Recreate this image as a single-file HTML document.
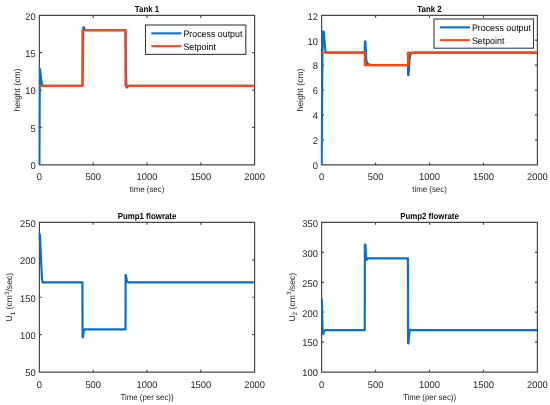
<!DOCTYPE html>
<html><head><meta charset="utf-8"><title>Tank and pump plots</title>
<style>
html,body{margin:0;padding:0;background:#fff}
svg{display:block}
text{font-family:"Liberation Sans",Arial,sans-serif;fill:#262626;text-rendering:geometricPrecision}
.tk{font-size:9.5px}
.lb{font-size:8.3px}
.tt{font-weight:bold;fill:#000}
.lg{font-size:8.8px;fill:#000}
</style></head><body>
<svg width="550" height="405" viewBox="0 0 550 405">
<rect width="550" height="405" fill="#fff"/>
<g>
<clipPath id="c39_15"><rect x="38.4" y="14.3" width="217.2" height="151.5"/></clipPath>
<path d="M39.4 15.3H254.6V164.8H39.4ZM39.4 164.8v-2.4M39.4 15.3v2.4M93.2 164.8v-2.4M93.2 15.3v2.4M147 164.8v-2.4M147 15.3v2.4M200.8 164.8v-2.4M200.8 15.3v2.4M254.6 164.8v-2.4M254.6 15.3v2.4M39.4 164.8h2.4M254.6 164.8h-2.4M39.4 127.43h2.4M254.6 127.43h-2.4M39.4 90.05h2.4M254.6 90.05h-2.4M39.4 52.68h2.4M254.6 52.68h-2.4M39.4 15.3h2.4M254.6 15.3h-2.4" fill="none" stroke="#484848" stroke-width="1.2"/>
<polyline clip-path="url(#c39_15)" points="39.4,164.8 39.62,112.48 39.83,68.75 40.15,70.62 41.01,78.09 41.98,84.44 42.84,85.79 82.44,85.79 82.87,60.15 83.3,27.26 83.95,27.26 84.7,29.5 86.21,30.25 125.48,30.25 126.02,75.1 126.45,87.43 126.99,87.43 128.06,86.31 129.57,85.79 254.6,85.79" fill="none" stroke="#0B70C4" stroke-width="2.2" stroke-linejoin="round"/>
<polyline clip-path="url(#c39_15)" points="39.4,85.79 82.44,85.79 82.44,30.25 125.48,30.25 125.48,85.79 254.6,85.79" fill="none" stroke="#FB4A0C" stroke-width="2.2" stroke-linejoin="round"/>
<text transform="translate(39.4 180.4) scale(1 1.037)" text-anchor="middle" class="tk" style="font-size:9.35px">0</text>
<text transform="translate(93.2 180.4) scale(1 1.037)" text-anchor="middle" class="tk" style="font-size:9.35px">500</text>
<text transform="translate(147 180.4) scale(1 1.037)" text-anchor="middle" class="tk" style="font-size:9.35px">1000</text>
<text transform="translate(200.8 180.4) scale(1 1.037)" text-anchor="middle" class="tk" style="font-size:9.35px">1500</text>
<text transform="translate(254.6 180.4) scale(1 1.037)" text-anchor="middle" class="tk" style="font-size:9.35px">2000</text>
<text transform="translate(35.7 169.1) scale(1 1.037)" text-anchor="end" class="tk" style="font-size:9.35px">0</text>
<text transform="translate(35.7 131.73) scale(1 1.037)" text-anchor="end" class="tk" style="font-size:9.35px">5</text>
<text transform="translate(35.7 94.35) scale(1 1.037)" text-anchor="end" class="tk" style="font-size:9.35px">10</text>
<text transform="translate(35.7 56.98) scale(1 1.037)" text-anchor="end" class="tk" style="font-size:9.35px">15</text>
<text transform="translate(35.7 19.6) scale(1 1.037)" text-anchor="end" class="tk" style="font-size:9.35px">20</text>
<text transform="translate(147 11.8) scale(1 1.114)" text-anchor="middle" class="tt" style="font-size:7.9px">Tank 1</text>
<text transform="translate(147 192.2) scale(1 1.051)" text-anchor="middle" class="lb" style="font-size:7.9px">time (sec)</text>
<text transform="translate(20.4 90.05) rotate(-90) scale(1.012 1)" text-anchor="middle" class="lb" style="font-size:8.5px">height (cm)</text>
</g>
<g>
<clipPath id="c321_15"><rect x="320.6" y="14.3" width="217.79999999999995" height="151.5"/></clipPath>
<path d="M321.6 15.3H537.4V164.8H321.6ZM321.6 164.8v-2.4M321.6 15.3v2.4M375.55 164.8v-2.4M375.55 15.3v2.4M429.5 164.8v-2.4M429.5 15.3v2.4M483.45 164.8v-2.4M483.45 15.3v2.4M537.4 164.8v-2.4M537.4 15.3v2.4M321.6 164.8h2.4M537.4 164.8h-2.4M321.6 139.88h2.4M537.4 139.88h-2.4M321.6 114.97h2.4M537.4 114.97h-2.4M321.6 90.05h2.4M537.4 90.05h-2.4M321.6 65.13h2.4M537.4 65.13h-2.4M321.6 40.22h2.4M537.4 40.22h-2.4M321.6 15.3h2.4M537.4 15.3h-2.4" fill="none" stroke="#484848" stroke-width="1.2"/>
<polyline clip-path="url(#c321_15)" points="321.6,164.8 322.03,102.51 322.46,45.2 322.79,31.5 323.76,31.5 324.41,40.22 325.05,48.94 325.92,52.05 327,52.68 364.76,52.68 364.98,41.46 365.41,41.46 366.27,60.15 367.13,63.26 369.08,64.51 372.31,65.13 407.92,65.13 408.14,75.1 408.57,75.1 409.43,58.9 410.29,54.54 412.24,53.05 414.39,52.68 537.4,52.68" fill="none" stroke="#0B70C4" stroke-width="2.2" stroke-linejoin="round"/>
<polyline clip-path="url(#c321_15)" points="321.6,52.68 364.76,52.68 364.76,65.13 407.92,65.13 407.92,52.68 537.4,52.68" fill="none" stroke="#FB4A0C" stroke-width="2.2" stroke-linejoin="round"/>
<text transform="translate(321.6 180.4) scale(1 1.037)" text-anchor="middle" class="tk" style="font-size:9.35px">0</text>
<text transform="translate(375.55 180.4) scale(1 1.037)" text-anchor="middle" class="tk" style="font-size:9.35px">500</text>
<text transform="translate(429.5 180.4) scale(1 1.037)" text-anchor="middle" class="tk" style="font-size:9.35px">1000</text>
<text transform="translate(483.45 180.4) scale(1 1.037)" text-anchor="middle" class="tk" style="font-size:9.35px">1500</text>
<text transform="translate(537.4 180.4) scale(1 1.037)" text-anchor="middle" class="tk" style="font-size:9.35px">2000</text>
<text transform="translate(317.9 169.1) scale(1 1.037)" text-anchor="end" class="tk" style="font-size:9.35px">0</text>
<text transform="translate(317.9 144.18) scale(1 1.037)" text-anchor="end" class="tk" style="font-size:9.35px">2</text>
<text transform="translate(317.9 119.27) scale(1 1.037)" text-anchor="end" class="tk" style="font-size:9.35px">4</text>
<text transform="translate(317.9 94.35) scale(1 1.037)" text-anchor="end" class="tk" style="font-size:9.35px">6</text>
<text transform="translate(317.9 69.43) scale(1 1.037)" text-anchor="end" class="tk" style="font-size:9.35px">8</text>
<text transform="translate(317.9 44.52) scale(1 1.037)" text-anchor="end" class="tk" style="font-size:9.35px">10</text>
<text transform="translate(317.9 19.6) scale(1 1.037)" text-anchor="end" class="tk" style="font-size:9.35px">12</text>
<text transform="translate(429.5 11.8) scale(1 1.114)" text-anchor="middle" class="tt" style="font-size:7.9px">Tank 2</text>
<text transform="translate(429.5 192.2) scale(1 1.051)" text-anchor="middle" class="lb" style="font-size:7.9px">time (sec)</text>
<text transform="translate(302.6 90.05) rotate(-90) scale(1.012 1)" text-anchor="middle" class="lb" style="font-size:8.5px">height (cm)</text>
</g>
<g>
<clipPath id="c39_222"><rect x="38.4" y="221.4" width="217.2" height="151.70000000000002"/></clipPath>
<path d="M39.4 222.4H254.6V372.1H39.4ZM39.4 372.1v-2.4M39.4 222.4v2.4M93.2 372.1v-2.4M93.2 222.4v2.4M147 372.1v-2.4M147 222.4v2.4M200.8 372.1v-2.4M200.8 222.4v2.4M254.6 372.1v-2.4M254.6 222.4v2.4M39.4 372.1h2.4M254.6 372.1h-2.4M39.4 334.68h2.4M254.6 334.68h-2.4M39.4 297.25h2.4M254.6 297.25h-2.4M39.4 259.83h2.4M254.6 259.83h-2.4M39.4 222.4h2.4M254.6 222.4h-2.4" fill="none" stroke="#484848" stroke-width="1.2"/>
<polyline clip-path="url(#c39_222)" points="39.4,240.36 39.51,233.63 39.94,235.87 41.98,279.29 42.63,282.28 82.44,282.28 82.55,337.29 82.98,337.29 83.62,331.68 84.59,329.44 125.48,329.44 125.59,275.17 126.02,275.17 126.77,280.78 128.06,282.28 254.6,282.28" fill="none" stroke="#0B70C4" stroke-width="2.2" stroke-linejoin="round"/>
<text transform="translate(39.4 387.7) scale(1 1.037)" text-anchor="middle" class="tk" style="font-size:9.35px">0</text>
<text transform="translate(93.2 387.7) scale(1 1.037)" text-anchor="middle" class="tk" style="font-size:9.35px">500</text>
<text transform="translate(147 387.7) scale(1 1.037)" text-anchor="middle" class="tk" style="font-size:9.35px">1000</text>
<text transform="translate(200.8 387.7) scale(1 1.037)" text-anchor="middle" class="tk" style="font-size:9.35px">1500</text>
<text transform="translate(254.6 387.7) scale(1 1.037)" text-anchor="middle" class="tk" style="font-size:9.35px">2000</text>
<text transform="translate(35.7 376.4) scale(1 1.037)" text-anchor="end" class="tk" style="font-size:9.35px">50</text>
<text transform="translate(35.7 338.98) scale(1 1.037)" text-anchor="end" class="tk" style="font-size:9.35px">100</text>
<text transform="translate(35.7 301.55) scale(1 1.037)" text-anchor="end" class="tk" style="font-size:9.35px">150</text>
<text transform="translate(35.7 264.13) scale(1 1.037)" text-anchor="end" class="tk" style="font-size:9.35px">200</text>
<text transform="translate(35.7 226.7) scale(1 1.037)" text-anchor="end" class="tk" style="font-size:9.35px">250</text>
<text transform="translate(147 218.9) scale(1 1.114)" text-anchor="middle" class="tt" style="font-size:7.9px">Pump1 flowrate</text>
<text transform="translate(147 399.5) scale(1 1.051)" text-anchor="middle" class="lb" style="font-size:7.9px">Time (per sec))</text>
<text transform="translate(12.4 297.25) rotate(-90) scale(1.012 1)" text-anchor="middle" class="lb" style="font-size:8.5px">U<tspan dy="2.5" style="font-size:6.3px">1</tspan><tspan dy="-2.5"> (cm</tspan><tspan dy="-3.5" style="font-size:6.3px">3</tspan><tspan dy="3.5">/sec)</tspan></text>
</g>
<g>
<clipPath id="c321_222"><rect x="320.6" y="221.4" width="217.79999999999995" height="151.70000000000002"/></clipPath>
<path d="M321.6 222.4H537.4V372.1H321.6ZM321.6 372.1v-2.4M321.6 222.4v2.4M375.55 372.1v-2.4M375.55 222.4v2.4M429.5 372.1v-2.4M429.5 222.4v2.4M483.45 372.1v-2.4M483.45 222.4v2.4M537.4 372.1v-2.4M537.4 222.4v2.4M321.6 372.1h2.4M537.4 372.1h-2.4M321.6 342.16h2.4M537.4 342.16h-2.4M321.6 312.22h2.4M537.4 312.22h-2.4M321.6 282.28h2.4M537.4 282.28h-2.4M321.6 252.34h2.4M537.4 252.34h-2.4M321.6 222.4h2.4M537.4 222.4h-2.4" fill="none" stroke="#484848" stroke-width="1.2"/>
<polyline clip-path="url(#c321_222)" points="321.6,299.05 321.82,299.05 322.46,327.19 323.11,334.08 323.97,331.38 325.05,330.18 364.76,330.18 364.87,244.56 365.3,244.56 365.95,254.74 366.7,259.82 367.78,258.33 407.92,258.33 408.03,343.36 408.46,343.36 409.11,334.97 409.86,329.59 410.94,330.18 537.4,330.18" fill="none" stroke="#0B70C4" stroke-width="2.2" stroke-linejoin="round"/>
<text transform="translate(321.6 387.7) scale(1 1.037)" text-anchor="middle" class="tk" style="font-size:9.35px">0</text>
<text transform="translate(375.55 387.7) scale(1 1.037)" text-anchor="middle" class="tk" style="font-size:9.35px">500</text>
<text transform="translate(429.5 387.7) scale(1 1.037)" text-anchor="middle" class="tk" style="font-size:9.35px">1000</text>
<text transform="translate(483.45 387.7) scale(1 1.037)" text-anchor="middle" class="tk" style="font-size:9.35px">1500</text>
<text transform="translate(537.4 387.7) scale(1 1.037)" text-anchor="middle" class="tk" style="font-size:9.35px">2000</text>
<text transform="translate(317.9 376.4) scale(1 1.037)" text-anchor="end" class="tk" style="font-size:9.35px">100</text>
<text transform="translate(317.9 346.46) scale(1 1.037)" text-anchor="end" class="tk" style="font-size:9.35px">150</text>
<text transform="translate(317.9 316.52) scale(1 1.037)" text-anchor="end" class="tk" style="font-size:9.35px">200</text>
<text transform="translate(317.9 286.58) scale(1 1.037)" text-anchor="end" class="tk" style="font-size:9.35px">250</text>
<text transform="translate(317.9 256.64) scale(1 1.037)" text-anchor="end" class="tk" style="font-size:9.35px">300</text>
<text transform="translate(317.9 226.7) scale(1 1.037)" text-anchor="end" class="tk" style="font-size:9.35px">350</text>
<text transform="translate(429.5 218.9) scale(1 1.114)" text-anchor="middle" class="tt" style="font-size:7.9px">Pump2 flowrate</text>
<text transform="translate(429.5 399.5) scale(1 1.051)" text-anchor="middle" class="lb" style="font-size:7.9px">Time (per sec))</text>
<text transform="translate(294.6 297.25) rotate(-90) scale(1.012 1)" text-anchor="middle" class="lb" style="font-size:8.5px">U<tspan dy="2.5" style="font-size:6.3px">2</tspan><tspan dy="-2.5"> (cm</tspan><tspan dy="-3.5" style="font-size:6.3px">3</tspan><tspan dy="3.5">/sec)</tspan></text>
</g>
<rect x="145.5" y="25" width="100.3" height="29.4" fill="#fff" stroke="#3c3c3c" stroke-width="1.1"/><path d="M151.3 33.35h30.2" stroke="#0B70C4" stroke-width="2.05"/><path d="M151.3 46.15h30.2" stroke="#FB4A0C" stroke-width="2.05"/><text transform="translate(183.4 37.1) scale(1 1.073)" text-anchor="start" class="lg" style="font-size:8.85px">Process output</text><text transform="translate(183.4 50.2) scale(1 1.073)" text-anchor="start" class="lg" style="font-size:8.85px">Setpoint</text>
<rect x="434" y="19" width="99.5" height="29.2" fill="#fff" stroke="#3c3c3c" stroke-width="1.1"/><path d="M439.8 27.35h30.2" stroke="#0B70C4" stroke-width="2.05"/><path d="M439.8 40.15h30.2" stroke="#FB4A0C" stroke-width="2.05"/><text transform="translate(471.9 31.1) scale(1 1.073)" text-anchor="start" class="lg" style="font-size:8.85px">Process output</text><text transform="translate(471.9 44.2) scale(1 1.073)" text-anchor="start" class="lg" style="font-size:8.85px">Setpoint</text>
</svg>
</body></html>
